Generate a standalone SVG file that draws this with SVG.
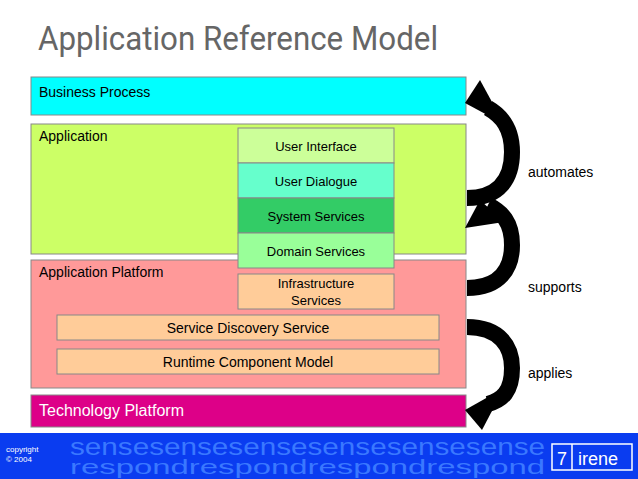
<svg xmlns="http://www.w3.org/2000/svg" width="638" height="479" viewBox="0 0 638 479">
<style>
.l{font-family:"Liberation Sans",Arial,sans-serif;font-size:14px;fill:#000}
.s{font-family:"Liberation Sans",Arial,sans-serif;font-size:13px;fill:#000;text-anchor:middle}
.b{stroke:#888;stroke-width:1}
.arc{fill:none;stroke:#000;stroke-width:16}
.bg{font-family:"Liberation Sans",sans-serif;fill:#3a78ff}
</style>
<rect width="638" height="479" fill="#fff"/>
<text x="38" y="50" font-family="Roboto,'Liberation Sans',sans-serif" font-size="34" fill="#666" textLength="400" lengthAdjust="spacingAndGlyphs">Application Reference Model</text>
<g id="business"><rect class="b" x="31" y="77" width="435" height="38" fill="#00ffff"/><text class="l" x="39" y="97">Business Process</text></g>
<g id="application"><rect class="b" x="31" y="124" width="435" height="130" fill="#ccff66"/><text class="l" x="39" y="141">Application</text></g>
<g id="platform"><rect class="b" x="31" y="260" width="435" height="128" fill="#ff9999"/><text class="l" x="39" y="277">Application Platform</text></g>
<g id="tech"><rect class="b" x="31" y="395" width="435" height="32" fill="#dd0088"/><text class="l" x="39" y="416" style="fill:#fff;font-size:16px">Technology Platform</text></g>
<g id="ui"><rect class="b" x="238" y="128" width="156" height="35" fill="#ccff99"/><text class="s" x="316" y="151">User Interface</text></g>
<g id="ud"><rect class="b" x="238" y="163" width="156" height="35" fill="#66ffcc"/><text class="s" x="316" y="186">User Dialogue</text></g>
<g id="ss"><rect class="b" x="238" y="198" width="156" height="35" fill="#33cc66"/><text class="s" x="316" y="221">System Services</text></g>
<g id="ds"><rect class="b" x="238" y="233" width="156" height="35" fill="#99ff99"/><text class="s" x="316" y="256">Domain Services</text></g>
<g id="is"><rect class="b" x="238" y="274" width="156" height="35" fill="#ffcc99"/><text class="s" x="316" y="288">Infrastructure</text><text class="s" x="316" y="305">Services</text></g>
<g id="sds"><rect class="b" x="57" y="315" width="382" height="25" fill="#ffcc99"/><text class="s" x="248" y="333" style="font-size:14px">Service Discovery Service</text></g>
<g id="rcm"><rect class="b" x="57" y="349" width="382" height="25" fill="#ffcc99"/><text class="s" x="248" y="367" style="font-size:14px">Runtime Component Model</text></g>
<g id="connectors">
<path class="arc" d="M467,198 C500,198 512,178 512,152 C512,128 502,116 488,108"/>
<polygon points="465,103 480,80 504,124"/>
<path class="arc" d="M467,288 C500,288 512,268 512,245 C512,222 502,212 488,205"/>
<polygon points="465,228 480,200 504,222"/>
<path class="arc" d="M467,327 C500,327 512,347 512,368 C512,392 502,400 488,404"/>
<polygon points="465,410 504,388 482,430"/>
<text class="l" x="528" y="177">automates</text>
<text class="l" x="528" y="292">supports</text>
<text class="l" x="528" y="378">applies</text>
</g>
<g id="banner">
<rect x="0" y="433" width="638" height="46" fill="#0a3cf0"/>
<text class="bg" x="70" y="455" font-size="24" textLength="475" lengthAdjust="spacingAndGlyphs">sensesensesensesensesensesense</text>
<text class="bg" x="70" y="474" font-size="20" textLength="475" lengthAdjust="spacingAndGlyphs">respondrespondrespondrespond</text>
<text x="6" y="452" font-family="'Liberation Sans',sans-serif" font-size="8" fill="#fff">copyright</text>
<text x="6" y="462" font-family="'Liberation Sans',sans-serif" font-size="8" fill="#fff">© 2004</text>
<rect x="552" y="444" width="80" height="26" fill="none" stroke="#fff" stroke-width="1.5"/>
<line x1="572" y1="444" x2="572" y2="470" stroke="#fff" stroke-width="1.5"/>
<text x="557" y="465" font-family="'Liberation Sans',sans-serif" font-size="18" fill="#fff">7</text>
<text x="578" y="465" font-family="'Liberation Sans',sans-serif" font-size="18" fill="#fff">irene</text>
</g>
</svg>
